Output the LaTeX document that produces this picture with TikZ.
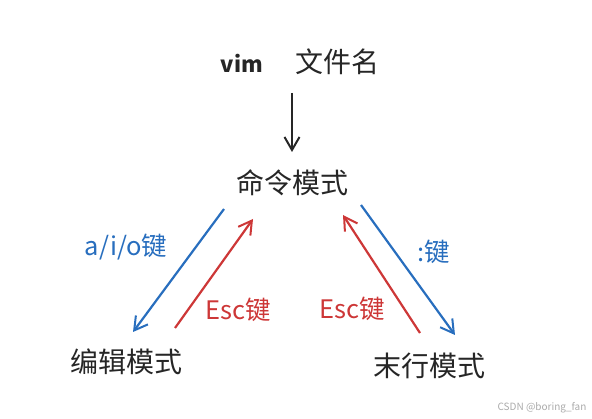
\documentclass[tikz,border=0pt]{standalone}
\usepackage{fontspec}
\setmainfont{Noto Sans CJK SC}
\newfontfamily\cjk{Noto Sans CJK SC}
\usetikzlibrary{arrows.meta}
\definecolor{myblue}{RGB}{40,110,190}
\definecolor{myred}{RGB}{205,55,55}
\definecolor{mygray}{RGB}{170,170,170}
\tikzset{
  big/.style={font=\cjk\fontsize{28}{30}\selectfont, inner sep=0pt, text=black!85},
  lab/.style={font=\cjk\fontsize{25.5}{28}\selectfont, inner sep=0pt},
  conn/.style={line width=2.2pt, -{Straight Barb[length=13pt,width=15pt,line width=2pt]}},
}
\begin{document}
\begin{tikzpicture}[x=1pt,y=-1pt]
\useasboundingbox (0,0) rectangle (592,419);
\node[big] (vim) at (242,63) {\fontsize{22}{24}\selectfont\bfseries vim};
\node[big] (file) at (337,62) {文件名};
\node[big] (cmd) at (292,183) {命令模式};
\node[big] (edit) at (126,362) {编辑模式};
\node[big] (last) at (429,366) {末行模式};
\coordinate (s0) at (292,93);
\coordinate (e0) at (292,152);
\draw[conn, black!85] (s0) -- (e0);
\coordinate (b1s) at (224,209);
\coordinate (b1e) at (133,332);
\draw[conn, myblue] (b1s) -- (b1e);
\coordinate (r1s) at (175,328);
\coordinate (r1e) at (253,219);
\draw[conn, myred] (r1s) -- (r1e);
\coordinate (b2s) at (361,205);
\coordinate (b2e) at (455,335);
\draw[conn, myblue] (b2s) -- (b2e);
\coordinate (r2s) at (420,333);
\coordinate (r2e) at (343,215);
\draw[conn, myred] (r2s) -- (r2e);
\node[lab, text=myblue] (aio) at (126,247) {a/i/o键};
\node[lab, text=myred] (esc1) at (238,310) {Esc键};
\node[lab, text=myblue] (colon) at (434,252) {:键};
\node[lab, text=myred] (esc2) at (352,309) {Esc键};
\node[font=\fontsize{10}{11}\selectfont, text=mygray, inner sep=0pt] (wm) at (542,408) {CSDN @boring\_fan};
\end{tikzpicture}
\end{document}
